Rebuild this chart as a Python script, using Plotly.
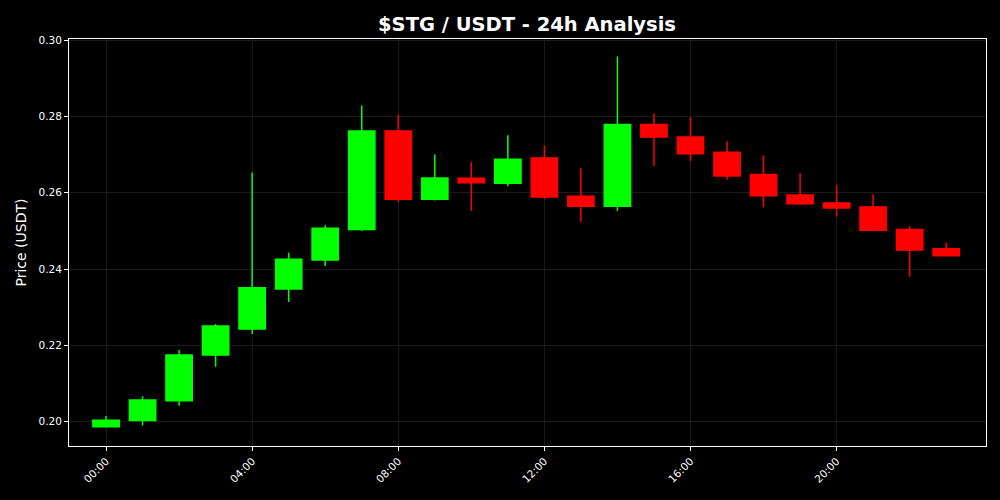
import plotly.graph_objects as go
import pandas as pd

times = [f"2024-01-01 {h:02d}:00" for h in range(24)]
opens = [0.1987, 0.2003, 0.2055, 0.2175, 0.2243, 0.2348, 0.2424, 0.2504,
         0.2762, 0.2583, 0.2638, 0.2625, 0.2691, 0.2591, 0.2565, 0.2779,
         0.2746, 0.2706, 0.2648, 0.2594, 0.2573, 0.2563, 0.2504, 0.2453]
highs = [0.2015, 0.2067, 0.2188, 0.2256, 0.2653, 0.2443, 0.2515, 0.2829,
         0.2805, 0.2701, 0.2680, 0.2751, 0.2724, 0.2664, 0.2957, 0.2808,
         0.2798, 0.2735, 0.2698, 0.2651, 0.2620, 0.2596, 0.2512, 0.2470]
lows = [0.1984, 0.1990, 0.2042, 0.2144, 0.2230, 0.2314, 0.2408, 0.2500,
        0.2576, 0.2580, 0.2552, 0.2618, 0.2584, 0.2524, 0.2552, 0.2670,
        0.2683, 0.2634, 0.2563, 0.2568, 0.2537, 0.2499, 0.2380, 0.2435]
closes = [0.2004, 0.2057, 0.2175, 0.2251, 0.2351, 0.2426, 0.2507, 0.2762,
          0.2583, 0.2639, 0.2626, 0.2688, 0.2589, 0.2565, 0.2779, 0.2746,
          0.2702, 0.2644, 0.2592, 0.2571, 0.2560, 0.2502, 0.2450, 0.2435]
x_ticks = times[::4]
y_ticks = [0.20, 0.22, 0.24, 0.26, 0.28, 0.30]

t0 = pd.Timestamp(times[0])
x_range = [t0 - pd.Timedelta(hours=1.014), t0 + pd.Timedelta(hours=24.09)]

fig = go.Figure(go.Candlestick(
    x=pd.to_datetime(times), open=opens, high=highs, low=lows, close=closes,
    increasing=dict(line=dict(color="#00ff00", width=1.5), fillcolor="#00ff00"),
    decreasing=dict(line=dict(color="#ff0000", width=1.5), fillcolor="#ff0000"),
    whiskerwidth=0, showlegend=False,
))

fig.update_layout(
    width=1000, height=500,
    paper_bgcolor="black", plot_bgcolor="black",
    margin=dict(l=69, r=14, t=39, b=54),
    boxgap=0.28, boxgroupgap=0,
    font=dict(family="DejaVu Sans", color="white"),
    title=dict(text="<b>$STG / USDT - 24h Analysis</b>", x=0.527, xanchor="center",
               y=0.952, yanchor="middle", font=dict(size=19.5, color="white")),
    xaxis=dict(
        type="date", range=x_range, rangeslider=dict(visible=False),
        tickvals=pd.to_datetime(x_ticks), ticktext=[t[-5:] for t in x_ticks],
        tickangle=-45, tickfont=dict(size=10.5, color="white"),
        ticks="outside", ticklen=4, tickcolor="white",
        showgrid=True, gridcolor="#1a1a1a", gridwidth=1,
        showline=True, linecolor="white", linewidth=1, mirror=True,
        zeroline=False,
    ),
    yaxis=dict(
        range=[0.19364, 0.3003], tickvals=y_ticks,
        ticktext=[f"{v:.2f}" for v in y_ticks],
        tickfont=dict(size=10.5, color="white"),
        ticks="outside", ticklen=4, tickcolor="white",
        showgrid=True, gridcolor="#1a1a1a", gridwidth=1,
        showline=True, linecolor="white", linewidth=1, mirror=True,
        zeroline=False,
        title=dict(text="Price (USDT)", font=dict(size=14, color="white"), standoff=8),
    ),
)

fig.write_html("out.html", config={"displayModeBar": False},
               post_script="document.body.style.margin='0';document.body.style.padding='0';")
